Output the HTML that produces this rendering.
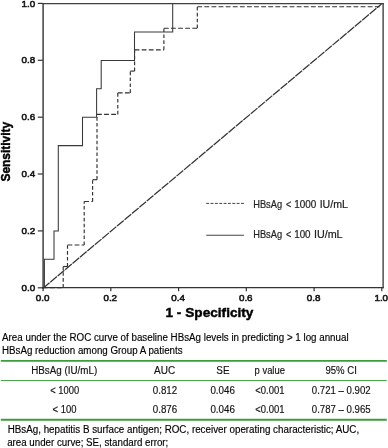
<!DOCTYPE html>
<html><head><meta charset="utf-8"><title>ROC curve</title>
<style>
html,body{margin:0;padding:0;background:#fff;}
svg{display:block;}
text{font-family:"Liberation Sans",sans-serif;fill:#111;}
.tk{font-size:10px;fill:#151515;stroke:#151515;stroke-width:0.6px;}
.ax{font-size:13.6px;font-weight:bold;fill:#000;stroke:#000;stroke-width:0.45px;}
.lg{font-size:10.1px;fill:#222;stroke:#222;stroke-width:0.2px;}
.cp{font-size:10px;fill:#000;stroke:#000;stroke-width:0.15px;}
.tb{font-size:10px;fill:#111;stroke:#111;stroke-width:0.15px;}
</style></head><body>
<svg width="388" height="448" viewBox="0 0 388 448">
<rect width="388" height="448" fill="#fff"/>
<g fill="none" stroke="#333" stroke-width="1.2">
<line x1="43.1" y1="3.1" x2="43.1" y2="288.2" stroke-width="1.4"/>
<line x1="42.4" y1="287.6" x2="383.7" y2="287.6" stroke-width="1.3"/>
<line x1="383.1" y1="3.1" x2="383.1" y2="288.2" stroke-width="1.3"/>
<line x1="42.4" y1="3.6" x2="383.7" y2="3.6" stroke-width="1.1" stroke="#404040"/>
<line x1="37.8" y1="287.8" x2="42.8" y2="287.8"/><line x1="43.1" y1="287.6" x2="43.1" y2="291.2"/><line x1="37.8" y1="230.9" x2="42.8" y2="230.9"/><line x1="110.8" y1="287.6" x2="110.8" y2="291.2"/><line x1="37.8" y1="174.0" x2="42.8" y2="174.0"/><line x1="178.6" y1="287.6" x2="178.6" y2="291.2"/><line x1="37.8" y1="117.2" x2="42.8" y2="117.2"/><line x1="246.3" y1="287.6" x2="246.3" y2="291.2"/><line x1="37.8" y1="60.3" x2="42.8" y2="60.3"/><line x1="314.1" y1="287.6" x2="314.1" y2="291.2"/><line x1="37.8" y1="3.4" x2="42.8" y2="3.4"/><line x1="381.8" y1="287.6" x2="381.8" y2="291.2"/>
</g>
<line x1="42.8" y1="288.4" x2="381.5" y2="4.0" stroke="#333" stroke-width="1.25" stroke-dasharray="8.75 0.95"/>
<g fill="none" stroke="#303030" stroke-width="1.15"><line x1="42.8" y1="287.6" x2="63.2" y2="287.6" stroke-dasharray="4.8 2.3"/><line x1="63.2" y1="287.6" x2="63.2" y2="266.5" stroke-dasharray="3.6 2.3"/><line x1="63.2" y1="266.5" x2="67.5" y2="266.5" stroke-dasharray="4.8 2.3"/><line x1="67.5" y1="266.5" x2="67.5" y2="245.0" stroke-dasharray="3.6 2.3"/><line x1="67.5" y1="245.0" x2="84.2" y2="245.0" stroke-dasharray="4.8 2.3"/><line x1="84.2" y1="245.0" x2="84.2" y2="201.5" stroke-dasharray="3.6 2.3"/><line x1="84.2" y1="201.5" x2="92.6" y2="201.5" stroke-dasharray="4.8 2.3"/><line x1="92.6" y1="201.5" x2="92.6" y2="179.7" stroke-dasharray="3.6 2.3"/><line x1="92.6" y1="179.7" x2="97.0" y2="179.7" stroke-dasharray="4.8 2.3"/><line x1="97.0" y1="179.7" x2="97.0" y2="114.4" stroke-dasharray="3.6 2.3"/><line x1="97.0" y1="114.4" x2="117.8" y2="114.4" stroke-dasharray="4.8 2.3"/><line x1="117.8" y1="114.4" x2="117.8" y2="92.9" stroke-dasharray="3.6 2.3"/><line x1="117.8" y1="92.9" x2="130.3" y2="92.9" stroke-dasharray="4.8 2.3"/><line x1="130.3" y1="92.9" x2="130.3" y2="71.1" stroke-dasharray="3.6 2.3"/><line x1="130.3" y1="71.1" x2="134.6" y2="71.1" stroke-dasharray="4.8 2.3"/><line x1="134.6" y1="71.1" x2="134.6" y2="49.8" stroke-dasharray="3.6 2.3"/><line x1="134.6" y1="49.8" x2="163.9" y2="49.8" stroke-dasharray="4.8 2.3"/><line x1="163.9" y1="49.8" x2="163.9" y2="28.2" stroke-dasharray="3.6 2.3"/><line x1="163.9" y1="28.2" x2="197.3" y2="28.2" stroke-dasharray="4.8 2.3"/><line x1="197.3" y1="28.2" x2="197.3" y2="6.7" stroke-dasharray="3.6 2.3"/><line x1="197.3" y1="6.7" x2="381.0" y2="6.7" stroke-dasharray="4.8 2.3"/></g>
<polyline points="44.4,288.0 44.4,259.2 54.0,259.2 54.0,230.9 58.3,230.9 58.3,145.6 82.5,145.6 82.5,117.2 96.6,117.2 96.6,88.8 101.2,88.8 101.2,60.4 134.5,60.4 134.5,32.0 172.7,32.0 172.7,3.6" fill="none" stroke="#383838" stroke-width="1.05"/>
<text class="tk" transform="translate(21.5,290.9) scale(1,0.93)" textLength="13.7" lengthAdjust="spacingAndGlyphs">0.0</text><text class="tk" transform="translate(35.7,300.8) scale(1,0.93)" textLength="13.7" lengthAdjust="spacingAndGlyphs">0.0</text><text class="tk" transform="translate(21.5,234.0) scale(1,0.93)" textLength="13.7" lengthAdjust="spacingAndGlyphs">0.2</text><text class="tk" transform="translate(103.4,300.8) scale(1,0.93)" textLength="13.7" lengthAdjust="spacingAndGlyphs">0.2</text><text class="tk" transform="translate(21.5,177.1) scale(1,0.93)" textLength="13.7" lengthAdjust="spacingAndGlyphs">0.4</text><text class="tk" transform="translate(171.2,300.8) scale(1,0.93)" textLength="13.7" lengthAdjust="spacingAndGlyphs">0.4</text><text class="tk" transform="translate(21.5,120.3) scale(1,0.93)" textLength="13.7" lengthAdjust="spacingAndGlyphs">0.6</text><text class="tk" transform="translate(238.9,300.8) scale(1,0.93)" textLength="13.7" lengthAdjust="spacingAndGlyphs">0.6</text><text class="tk" transform="translate(21.5,63.4) scale(1,0.93)" textLength="13.7" lengthAdjust="spacingAndGlyphs">0.8</text><text class="tk" transform="translate(306.7,300.8) scale(1,0.93)" textLength="13.7" lengthAdjust="spacingAndGlyphs">0.8</text><text class="tk" transform="translate(21.5,6.5) scale(1,0.93)" textLength="13.7" lengthAdjust="spacingAndGlyphs">1.0</text><text class="tk" transform="translate(374.4,300.8) scale(1,0.93)" textLength="13.7" lengthAdjust="spacingAndGlyphs">1.0</text>
<text class="ax" x="165.5" y="317.0" textLength="87.9" lengthAdjust="spacing">1 - Specificity</text>
<text class="ax" transform="translate(9.9,151.7) rotate(-90) scale(0.88,1)" text-anchor="middle">Sensitivity</text>
<line x1="206.2" y1="203.4" x2="243.9" y2="203.4" stroke="#444" stroke-width="1" stroke-dasharray="2.9 1.45"/>
<line x1="206.2" y1="235.2" x2="243.9" y2="235.2" stroke="#444" stroke-width="1.1"/>
<text class="lg" x="253.2" y="208.1" textLength="28.9" lengthAdjust="spacingAndGlyphs">HBsAg</text><text class="lg" x="286" y="208.1" textLength="5.3" lengthAdjust="spacingAndGlyphs">&lt;</text><text class="lg" x="294.2" y="208.1" textLength="22.1" lengthAdjust="spacingAndGlyphs">1000</text><text class="lg" x="319.7" y="208.1" textLength="28.2" lengthAdjust="spacingAndGlyphs">IU/mL</text>
<text class="lg" x="253.2" y="237.6" textLength="28.9" lengthAdjust="spacingAndGlyphs">HBsAg</text><text class="lg" x="286" y="237.6" textLength="5.3" lengthAdjust="spacingAndGlyphs">&lt;</text><text class="lg" x="294.2" y="237.6" textLength="16.4" lengthAdjust="spacingAndGlyphs">100</text><text class="lg" x="313.9" y="237.6" textLength="28.7" lengthAdjust="spacingAndGlyphs">IU/mL</text>
<text class="cp" x="2.1" y="341.2" textLength="346.5" lengthAdjust="spacingAndGlyphs">Area under the ROC curve of baseline HBsAg levels in predicting &gt; 1 log annual</text>
<text class="cp" x="2.0" y="354.0" textLength="180.6" lengthAdjust="spacingAndGlyphs">HBsAg reduction among Group A patients</text>
<g stroke="#3c9d3c">
<line x1="0.8" y1="360.9" x2="386.8" y2="360.9" stroke-width="1.8"/>
<line x1="0.8" y1="380.5" x2="386.8" y2="380.5" stroke-width="1.1" stroke="#4aa84a"/>
<line x1="0.8" y1="419.8" x2="386.8" y2="419.8" stroke-width="1.9"/>
</g>
<text class="tb" x="31.2" y="374.2" textLength="66.0" lengthAdjust="spacingAndGlyphs">HBsAg (IU/mL)</text>
<text class="tb" x="154.1" y="374.2" textLength="21.1" lengthAdjust="spacingAndGlyphs">AUC</text>
<text class="tb" x="216.3" y="374.2" textLength="13.2" lengthAdjust="spacingAndGlyphs">SE</text>
<text class="tb" x="254.6" y="374.2" textLength="30.3" lengthAdjust="spacingAndGlyphs">p value</text>
<text class="tb" x="325.4" y="374.2" textLength="31.4" lengthAdjust="spacingAndGlyphs">95% CI</text>
<text class="tb" x="50.3" y="393.7" textLength="28.9" lengthAdjust="spacingAndGlyphs">&lt; 1000</text>
<text class="tb" x="152.8" y="393.7" textLength="24.4" lengthAdjust="spacingAndGlyphs">0.812</text>
<text class="tb" x="210.4" y="393.7" textLength="24.5" lengthAdjust="spacingAndGlyphs">0.046</text>
<text class="tb" x="255.3" y="393.7" textLength="29.2" lengthAdjust="spacingAndGlyphs">&lt;0.001</text>
<text class="tb" x="311.8" y="393.7" textLength="58.8" lengthAdjust="spacingAndGlyphs">0.721 – 0.902</text>
<text class="tb" x="52.6" y="413.0" textLength="23.8" lengthAdjust="spacingAndGlyphs">&lt; 100</text>
<text class="tb" x="152.8" y="413.0" textLength="24.4" lengthAdjust="spacingAndGlyphs">0.876</text>
<text class="tb" x="210.4" y="413.0" textLength="24.5" lengthAdjust="spacingAndGlyphs">0.046</text>
<text class="tb" x="255.3" y="413.0" textLength="29.2" lengthAdjust="spacingAndGlyphs">&lt;0.001</text>
<text class="tb" x="311.8" y="413.0" textLength="58.8" lengthAdjust="spacingAndGlyphs">0.787 – 0.965</text>
<text class="cp" x="7.7" y="433.2" textLength="351.5" lengthAdjust="spacingAndGlyphs">HBsAg, hepatitis B surface antigen; ROC, receiver operating characteristic; AUC,</text>
<text class="cp" x="7.2" y="445.6" textLength="161.1" lengthAdjust="spacingAndGlyphs">area under curve; SE, standard error;</text>

</svg>
</body></html>
